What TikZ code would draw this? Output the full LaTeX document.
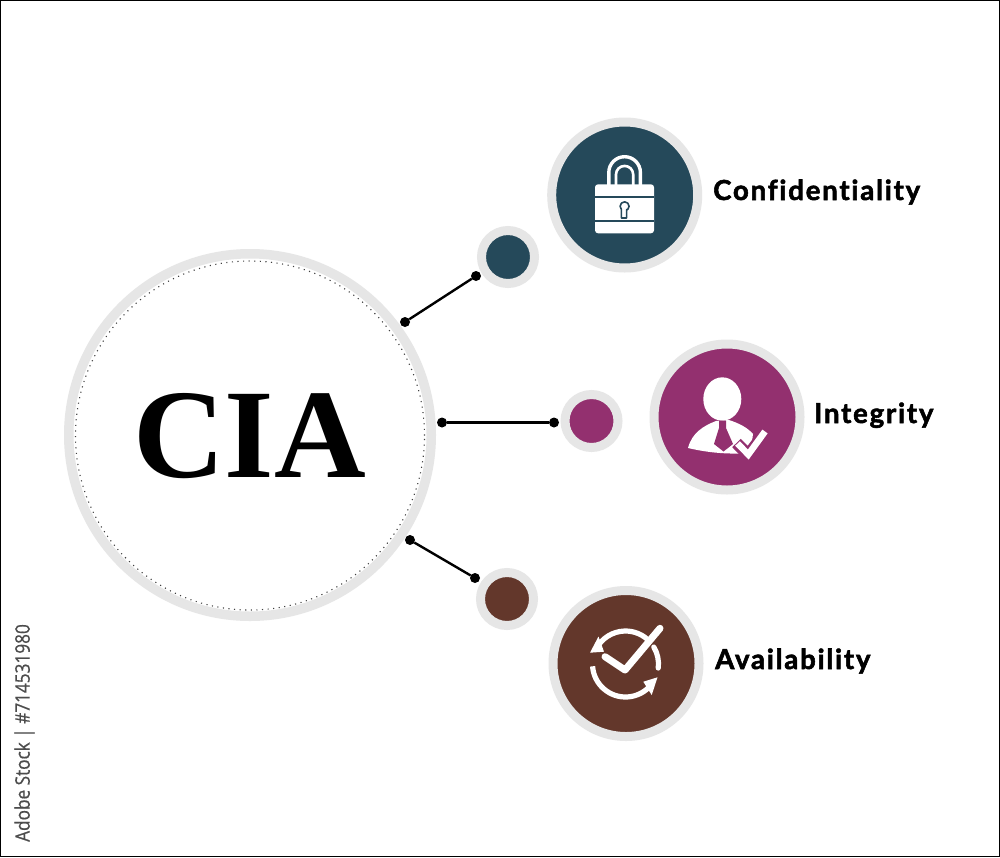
\documentclass[tikz,border=0pt]{standalone}
\usepackage{fontspec}
\setmainfont{Lato}
\newfontfamily\labelfont[BoldFeatures={FakeBold=2,LetterSpace=6.5},Ligatures={NoCommon}]{Lato}
\newfontfamily\serifcia{Liberation Serif}
\newfontfamily\sidefont[FakeStretch=0.86,FakeBold=0.6]{Open Sans}
\definecolor{tealc}{HTML}{25495A}
\definecolor{purplec}{HTML}{93306F}
\definecolor{brownc}{HTML}{63372B}
\definecolor{ringc}{HTML}{E6E6E6}
\tikzset{
  bigdisc/.style={circle,fill=#1,draw=ringc,line width=9pt,minimum size=146pt,inner sep=0pt,outer sep=0pt},
  smalldisc/.style={circle,fill=#1,draw=ringc,line width=9pt,minimum size=53pt,inner sep=0pt,outer sep=0pt},
  enddot/.style={circle,fill=black,minimum size=10pt,inner sep=0pt,outer sep=0pt},
  link/.style={line width=2.4pt,black},
  itemlabel/.style={anchor=base west,inner sep=0pt,font=\fontsize{27.6}{30}\selectfont\labelfont\bfseries},
  iconline/.style={draw=white,line cap=round,line join=round}
}
\begin{document}
\begin{tikzpicture}[x=1pt,y=1pt,yscale=-1]
\useasboundingbox (0,0) rectangle (1000,857);
\fill[white] (0,0) rectangle (1000,857);
\draw[black,line width=1.2pt] (0.6,0.6) rectangle (999.4,856.4);

% main circle
\node[circle,draw=ringc,fill=white,line width=9.5pt,minimum size=362.5pt,inner sep=0pt,outer sep=0pt] (main) at (250,435) {};
\node[circle,draw=black!75,line width=1.1pt,dash pattern=on 1.1pt off 4.5pt,minimum size=349pt,inner sep=0pt,outer sep=0pt] (maindots) at (250,435.5) {};
\node[anchor=base,inner sep=0pt,font=\fontsize{127}{130}\selectfont\serifcia\bfseries] (cia) at (249.5,477) {CIA};

% discs
\node[bigdisc=tealc] (conf) at (624.7,195) {};
\node[bigdisc=purplec] (integ) at (727,417) {};
\node[bigdisc=brownc] (avail) at (626,663.5) {};
\node[smalldisc=tealc] (s1) at (508,257) {};
\node[smalldisc=purplec] (s2) at (591.5,421) {};
\node[smalldisc=brownc] (s3) at (507,599) {};

% connectors
\node[enddot] (a1) at (405,322) {};
\node[enddot] (b1) at (476,276) {};
\node[enddot] (a2) at (442,422.5) {};
\node[enddot] (b2) at (554,422.5) {};
\node[enddot] (a3) at (410,540) {};
\node[enddot] (b3) at (475,578) {};
\draw[link] (a1) -- (b1);
\draw[link] (a2) -- (b2);
\draw[link] (a3) -- (b3);

% labels
\node[itemlabel] (lconf) at (713,200) {Confidentiality};
\node[itemlabel] (linteg) at (814,423) {Integrity};
\node[itemlabel] (lavail) at (715,669) {Availability};

% side text
\node[rotate=90,anchor=west,inner sep=0pt,text=black!70,font=\fontsize{20}{24}\selectfont\sidefont] (side) at (24.5,842) {Adobe Stock | \#714531980};

% lock icon
\draw[iconline,line width=3.4pt,line cap=butt] (608.8,185) -- (608.8,172.5) arc[start angle=180,end angle=360,radius=15.8] -- (640.4,185);
\draw[iconline,line width=2.6pt,line cap=butt] (616,185) -- (616,174.5) arc[start angle=180,end angle=360,radius=8.6] -- (633.2,185);
\fill[white,rounded corners=3pt] (595,184.3) rectangle (654,233.3);
\draw[tealc,line width=1.8pt] (595,197) -- (654,197);
\draw[tealc,line width=1.8pt] (595,221) -- (654,221);
\draw[tealc,line width=1.6pt,line join=round] (621.4,209.5) arc[start angle=135,end angle=405,radius=4.5] -- (626.6,209.5) -- (626.6,218) -- (621.4,218) -- cycle;

% person icon
\fill[white] (722.3,399) ellipse[x radius=19,y radius=21.7];
\fill[white] (688,448) .. controls (692,433) and (703,426) .. (716,421) -- (729,420) .. controls (738,423) and (747,427) .. (753,434) -- (750,456) -- (742,453.5) .. controls (722,454) and (705,452) .. (688,448) -- cycle;
\fill[purplec] (719,420.5) -- (726,420.5) -- (726,428) -- (733,444) -- (723.5,451.5) -- (714,444) -- (719,428) -- cycle;
\draw[purplec,line width=12pt,line cap=butt,line join=miter] (736.5,443) -- (748.3,455) -- (767,430);
\draw[white,line width=6.5pt,line cap=butt,line join=miter] (737.5,443.5) -- (748.3,454.5) -- (765,431.5);

% availability icon
\draw[iconline,line width=5.2pt,line cap=butt] (625.5,664) ++(-152:33) arc[start angle=-152,end angle=-42,radius=33];
\draw[iconline,line width=5.2pt,line cap=butt] (625.5,664) ++(176:33) arc[start angle=176,end angle=40,radius=33];
\draw[iconline,line width=5.2pt,line cap=round] (625.5,664) ++(-31:33) arc[start angle=-31,end angle=7,radius=33];
\fill[white] (590,652.7) -- (598.5,636.5) -- (604,651.7) -- cycle;
\fill[white] (657.5,677.3) -- (643.3,681.7) -- (651.7,695) -- cycle;
\draw[iconline,line width=7pt] (605,656.7) -- (625,670) -- (660,628.3);
\end{tikzpicture}
\end{document}
